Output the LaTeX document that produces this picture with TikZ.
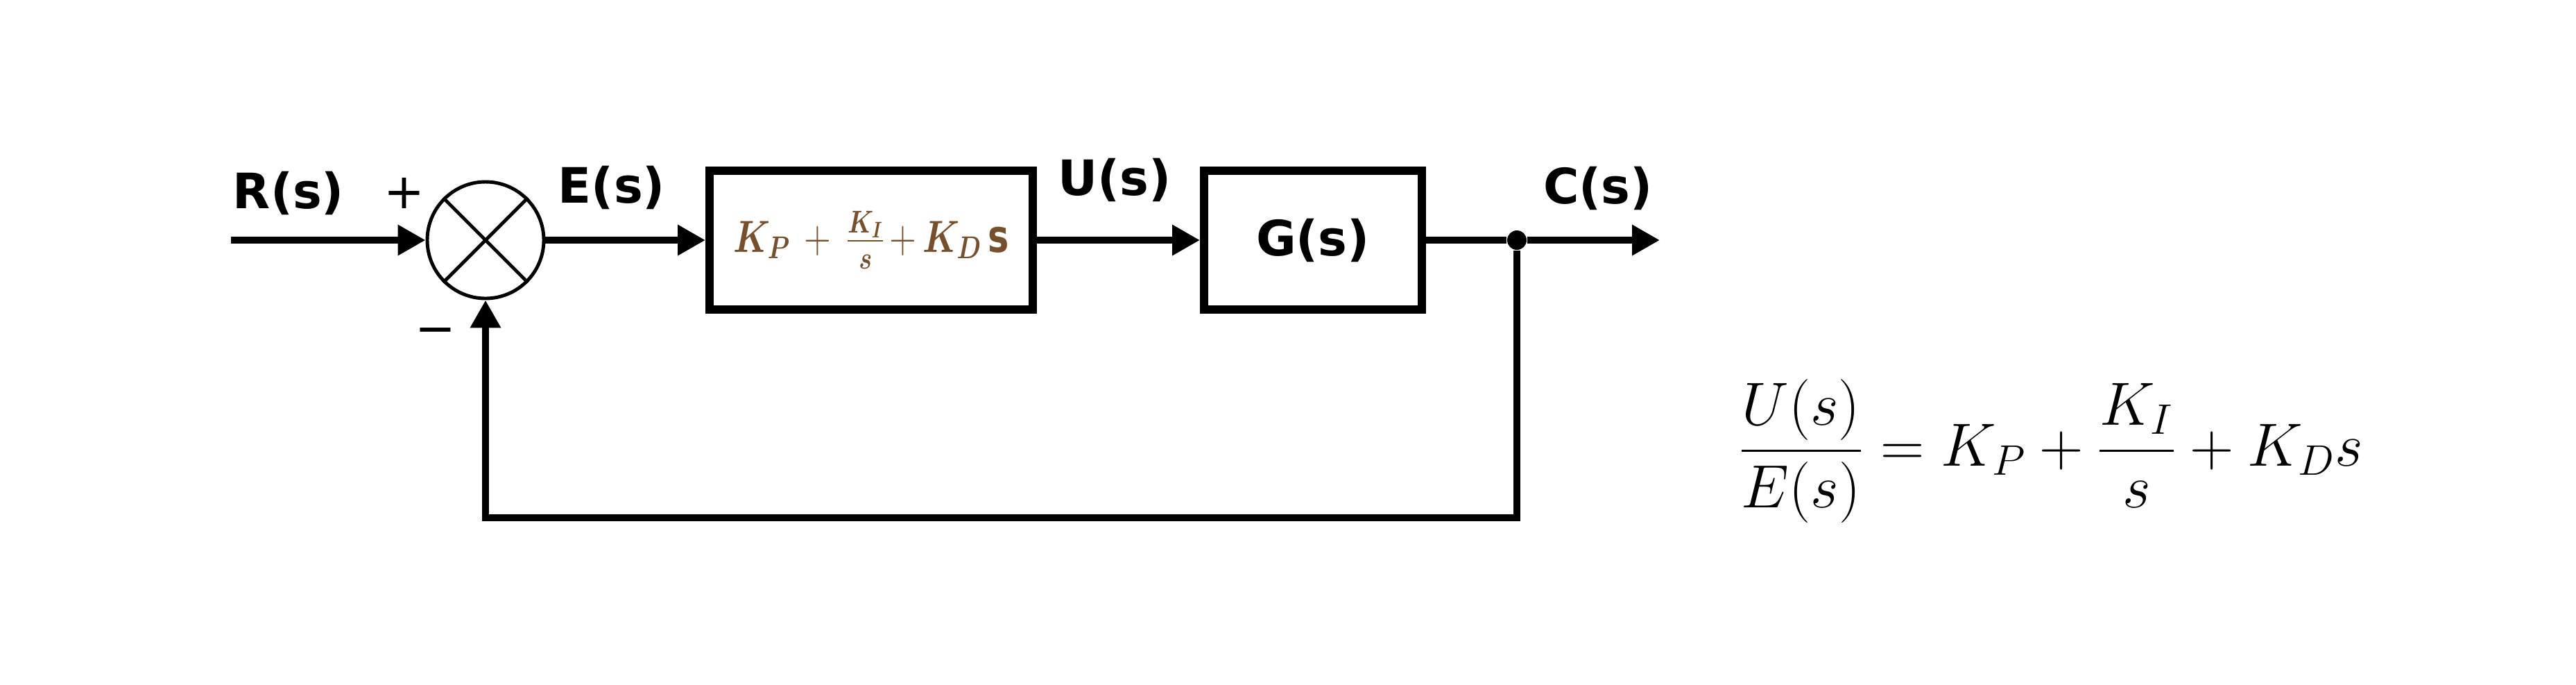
\RequirePackage{fix-cm}
\documentclass[tikz,border=0pt]{standalone}
\usepackage{amsmath,amssymb}
\usepackage{graphicx}
\usepackage[no-math]{fontspec}
\newfontfamily\labelfont{DejaVu Sans}
\usepackage{tikz}
\usetikzlibrary{arrows.meta,positioning,calc}
\definecolor{pidbrown}{RGB}{118,80,44}

\begin{document}
\begin{tikzpicture}
\tikzset{
  lbl/.style={font=\labelfont\bfseries\fontsize{20}{24}\selectfont},
  sig label/.style={lbl, anchor=base, inner sep=0pt},
  sign/.style={font=\labelfont\fontsize{20}{24}\selectfont, anchor=base, inner sep=0pt},
  sum block/.style={draw, circle, line width=1.4pt, minimum size=1.68cm, inner sep=0pt},
  tf block/.style={draw, rectangle, line width=3.4pt,
    minimum height=2cm, minimum width=#1, inner sep=0pt},
  tf block/.default=3.14cm,
  wire/.style={line width=2.8pt},
  signal/.style={wire, -{Triangle[length=0.40cm,width=0.42cm]}},
  branch/.style={circle, fill, minimum size=0.28cm, inner sep=0pt}
}
\useasboundingbox (0,0) rectangle (37.14,-9.86);

\coordinate (rin) at (3.33,-3.46);
\node[sum block] (sum) at (7.00,-3.46) {};
\draw[line width=1.4pt] (sum.north west) -- (sum.south east)
                        (sum.north east) -- (sum.south west);
\node[tf block=4.66cm, text=pidbrown, font=\fontsize{16.5}{20}\selectfont] (pid) at (12.56,-3.46)
  {\scalebox{0.88}[1.12]{$\boldsymbol{K_P}\mkern3mu+\mkern3mu\boldsymbol{\frac{K_I}{s}}\mkern-2mu+\mkern-1mu\boldsymbol{K_D}$\,{\labelfont\bfseries s}}};
\node[tf block, lbl] (plant) at (18.93,-3.46) {G(s)};
\node[branch] (dot) at (21.87,-3.46) {};
\coordinate (cout) at (23.93,-3.46);
\coordinate (fbk) at (21.87,-7.46);

\draw[signal] (rin) -- (sum);
\draw[signal] (sum) -- (pid);
\draw[signal] (pid) -- (plant);
\draw[wire] (plant) -- (dot);
\draw[signal] (dot) -- (cout);
\draw[signal] (dot) -- (fbk) -| (sum.south);

\node[sig label] (rlab) at (4.16,-3.00) {R(s)};
\node[sign] (plus) at (5.83,-3.00) {+};
\node[sign] (minus) at (6.28,-4.97) {−};
\node[sig label] (elab) at (8.82,-2.92) {E(s)};
\node[sig label] (ulab) at (16.07,-2.81) {U(s)};
\node[sig label] (clab) at (23.04,-2.93) {C(s)};

\node[anchor=west, font=\fontsize{25}{30}\selectfont, inner sep=0pt] (tfeq) at (25.06,-6.50)
  {$\displaystyle\frac{U(s)}{E(s)} = K_P + \frac{K_I}{s} + K_D s$};
\end{tikzpicture}
\end{document}
